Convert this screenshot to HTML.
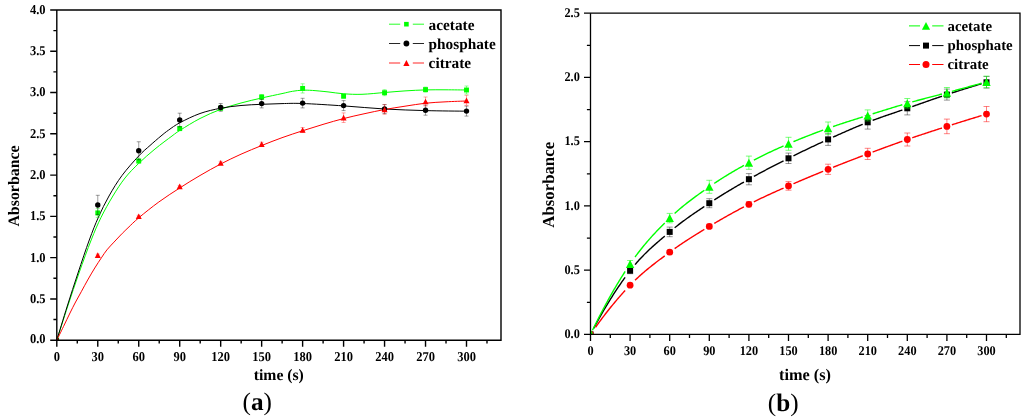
<!DOCTYPE html>
<html lang="en"><head><meta charset="utf-8"><title>Absorbance vs time</title>
<style>html,body{margin:0;padding:0;background:#fff;}body{width:1024px;height:420px;overflow:hidden;}svg{display:block;font-family:'Liberation Serif', 'DejaVu Serif', serif;fill:#000;text-rendering:geometricPrecision;}</style></head><body>
<svg width="1024" height="420" viewBox="0 0 1024 420">
<rect x="0" y="0" width="1024" height="420" fill="#fff"/>
<g id="chart-a">
<clipPath id="clipA"><rect x="56.8" y="10" width="444.2" height="330.2"/></clipPath>
<g fill="none" stroke-width="1.0" clip-path="url(#clipA)">
<path d="M56.8,340.2 C58.63,334.5 64.1,317.2 67.8,306 C71.5,294.8 75.1,284 79,273 C82.9,262 87.53,249.25 91.2,240 C94.87,230.75 97.38,224.83 101,217.5 C104.62,210.17 108.9,202.58 112.9,196 C116.9,189.42 120.68,183.45 125,178 C129.32,172.55 133.8,168.13 138.8,163.3 C143.8,158.47 149.47,153.55 155,149 C160.53,144.45 167.75,139.17 172,136 C176.25,132.83 175.83,132.92 180.5,130 C185.17,127.08 193.29,121.95 200,118.5 C206.71,115.05 213.92,111.88 220.75,109.3 C227.58,106.72 234.19,104.88 241,103 C247.81,101.12 254.77,99.57 261.6,98 C268.43,96.43 276.85,94.72 282,93.6 C287.15,92.48 289.08,91.87 292.5,91.3 C295.92,90.73 299.17,90.34 302.5,90.2 C305.83,90.06 308.25,90.17 312.5,90.45 C316.75,90.73 322.78,91.34 328,91.9 C333.22,92.46 338.13,93.4 343.8,93.8 C349.47,94.2 355.18,94.52 362,94.3 C368.82,94.08 377.53,93.07 384.7,92.5 C391.87,91.93 398.17,91.33 405,90.9 C411.83,90.47 418.87,90.08 425.7,89.9 C432.53,89.72 439.2,89.78 446,89.8 C452.8,89.82 463.08,89.97 466.5,90" stroke="#00ff00"/>
<path d="M56.8,340.2 C58.55,334.5 63.77,317.2 67.3,306 C70.83,294.8 74.33,284 78,273 C81.67,262 85.88,249.33 89.3,240 C92.72,230.67 95.22,224.33 98.5,217 C101.78,209.67 105.08,202.92 109,196 C112.92,189.08 117.03,182.18 122,175.5 C126.97,168.82 134.13,160.9 138.8,155.9 C143.47,150.9 146.3,148.82 150,145.5 C153.7,142.18 157.88,138.58 161,136 C164.12,133.42 165.55,132.22 168.7,130 C171.85,127.78 174.68,125.45 179.9,122.7 C185.12,119.95 193.19,115.92 200,113.5 C206.81,111.08 213.92,109.53 220.75,108.2 C227.58,106.87 234.19,106.15 241,105.5 C247.81,104.85 254.77,104.62 261.6,104.3 C268.43,103.98 275.18,103.73 282,103.6 C288.82,103.47 292.2,103.12 302.5,103.5 C312.8,103.88 330.1,104.98 343.8,105.9 C357.5,106.82 371.05,108.22 384.7,109 C398.35,109.78 412.07,110.23 425.7,110.6 C439.33,110.97 459.7,111.1 466.5,111.2" stroke="#000000"/>
<path d="M56.8,340.2 C57.92,337.92 61.3,331.03 63.5,326.5 C65.7,321.97 67.98,317.08 70,313 C72.02,308.92 73.68,305.62 75.6,302 C77.52,298.38 79.48,294.97 81.5,291.3 C83.52,287.63 85.49,283.88 87.7,280 C89.91,276.12 92.47,271.7 94.75,268 C97.03,264.3 99.38,260.82 101.4,257.8 C103.43,254.78 104.8,252.52 106.9,249.9 C109,247.28 111.7,244.58 114,242.1 C116.3,239.62 118.37,237.38 120.7,235 C123.03,232.62 124.95,230.7 128,227.8 C131.05,224.9 133.87,221.9 139,217.6 C144.13,213.3 152.02,206.93 158.8,202 C165.58,197.07 172.83,192.42 179.7,188 C186.57,183.58 193.17,179.5 200,175.5 C206.83,171.5 213.87,167.55 220.7,164 C227.53,160.45 234.12,157.3 241,154.2 C247.88,151.1 255.17,148.15 262,145.4 C268.83,142.65 275.2,140.15 282,137.7 C288.8,135.25 295.97,132.92 302.8,130.7 C309.63,128.48 316.17,126.43 323,124.4 C329.83,122.37 336.97,120.27 343.8,118.5 C350.63,116.73 357.18,115.3 364,113.8 C370.82,112.3 377.87,110.77 384.7,109.5 C391.53,108.23 398.17,107.25 405,106.2 C411.83,105.15 418.87,103.93 425.7,103.2 C432.53,102.47 439.2,102.17 446,101.8 C452.8,101.43 463.08,101.13 466.5,101" stroke="#ff0000"/>
</g>
<g clip-path="url(#clipA)">
<rect x="54.5" y="337.9" width="4.6" height="4.6" fill="#00ff00"/>
<circle cx="56.8" cy="340.2" r="2.4" fill="#000000"/>
<polygon points="56.8,336.4 53.8,342.1 59.8,342.1" fill="#ff0000"/>
<path d="M97.77,208.4 V217.4 M95.77,208.4 H99.77 M95.77,217.4 H99.77" stroke="#00ff00" stroke-width="0.7" stroke-opacity="0.6" fill="none"/>
<path d="M138.74,159 V163 M136.74,159 H140.74 M136.74,163 H140.74" stroke="#00ff00" stroke-width="0.7" stroke-opacity="0.6" fill="none"/>
<path d="M179.71,126.6 V130.6 M177.71,126.6 H181.71 M177.71,130.6 H181.71" stroke="#00ff00" stroke-width="0.7" stroke-opacity="0.6" fill="none"/>
<path d="M220.68,106.2 V110.2 M218.68,106.2 H222.68 M218.68,110.2 H222.68" stroke="#00ff00" stroke-width="0.7" stroke-opacity="0.6" fill="none"/>
<path d="M261.65,94.5 V99.5 M259.65,94.5 H263.65 M259.65,99.5 H263.65" stroke="#00ff00" stroke-width="0.7" stroke-opacity="0.6" fill="none"/>
<path d="M302.62,83.8 V93 M300.62,83.8 H304.62 M300.62,93 H304.62" stroke="#00ff00" stroke-width="0.7" stroke-opacity="0.6" fill="none"/>
<path d="M343.59,94.2 V98.2 M341.59,94.2 H345.59 M341.59,98.2 H345.59" stroke="#00ff00" stroke-width="0.7" stroke-opacity="0.6" fill="none"/>
<path d="M384.56,89.7 V95.7 M382.56,89.7 H386.56 M382.56,95.7 H386.56" stroke="#00ff00" stroke-width="0.7" stroke-opacity="0.6" fill="none"/>
<path d="M425.53,87.1 V92.1 M423.53,87.1 H427.53 M423.53,92.1 H427.53" stroke="#00ff00" stroke-width="0.7" stroke-opacity="0.6" fill="none"/>
<path d="M466.5,86 V94 M464.5,86 H468.5 M464.5,94 H468.5" stroke="#00ff00" stroke-width="0.7" stroke-opacity="0.6" fill="none"/>
<rect x="95.32" y="210.45" width="4.9" height="4.9" fill="#00ff00"/>
<rect x="136.29" y="158.55" width="4.9" height="4.9" fill="#00ff00"/>
<rect x="177.26" y="126.15" width="4.9" height="4.9" fill="#00ff00"/>
<rect x="218.23" y="105.75" width="4.9" height="4.9" fill="#00ff00"/>
<rect x="259.2" y="94.55" width="4.9" height="4.9" fill="#00ff00"/>
<rect x="300.17" y="85.95" width="4.9" height="4.9" fill="#00ff00"/>
<rect x="341.14" y="93.75" width="4.9" height="4.9" fill="#00ff00"/>
<rect x="382.11" y="90.25" width="4.9" height="4.9" fill="#00ff00"/>
<rect x="423.08" y="87.15" width="4.9" height="4.9" fill="#00ff00"/>
<rect x="464.05" y="87.55" width="4.9" height="4.9" fill="#00ff00"/>
<path d="M97.77,195.3 V214.7 M95.77,195.3 H99.77 M95.77,214.7 H99.77" stroke="#000" stroke-width="0.7" stroke-opacity="0.55" fill="none"/>
<path d="M138.74,141.75 V159.75 M136.74,141.75 H140.74 M136.74,159.75 H140.74" stroke="#000" stroke-width="0.7" stroke-opacity="0.55" fill="none"/>
<path d="M179.71,113.2 V126.8 M177.71,113.2 H181.71 M177.71,126.8 H181.71" stroke="#000" stroke-width="0.7" stroke-opacity="0.55" fill="none"/>
<path d="M220.68,103.5 V111.3 M218.68,103.5 H222.68 M218.68,111.3 H222.68" stroke="#000" stroke-width="0.7" stroke-opacity="0.55" fill="none"/>
<path d="M261.65,99.3 V107.9 M259.65,99.3 H263.65 M259.65,107.9 H263.65" stroke="#000" stroke-width="0.7" stroke-opacity="0.55" fill="none"/>
<path d="M302.62,98.3 V107.9 M300.62,98.3 H304.62 M300.62,107.9 H304.62" stroke="#000" stroke-width="0.7" stroke-opacity="0.55" fill="none"/>
<path d="M343.59,100.6 V110.6 M341.59,100.6 H345.59 M341.59,110.6 H345.59" stroke="#000" stroke-width="0.7" stroke-opacity="0.55" fill="none"/>
<path d="M384.56,104.5 V113.5 M382.56,104.5 H386.56 M382.56,113.5 H386.56" stroke="#000" stroke-width="0.7" stroke-opacity="0.55" fill="none"/>
<path d="M425.53,105.2 V115.2 M423.53,105.2 H427.53 M423.53,115.2 H427.53" stroke="#000" stroke-width="0.7" stroke-opacity="0.55" fill="none"/>
<path d="M466.5,106.1 V116.1 M464.5,106.1 H468.5 M464.5,116.1 H468.5" stroke="#000" stroke-width="0.7" stroke-opacity="0.55" fill="none"/>
<circle cx="97.77" cy="205" r="2.7" fill="#000000"/>
<circle cx="138.74" cy="150.75" r="2.7" fill="#000000"/>
<circle cx="179.71" cy="120" r="2.7" fill="#000000"/>
<circle cx="220.68" cy="107.4" r="2.7" fill="#000000"/>
<circle cx="261.65" cy="103.6" r="2.7" fill="#000000"/>
<circle cx="302.62" cy="103.1" r="2.7" fill="#000000"/>
<circle cx="343.59" cy="105.6" r="2.7" fill="#000000"/>
<circle cx="384.56" cy="109" r="2.7" fill="#000000"/>
<circle cx="425.53" cy="110.2" r="2.7" fill="#000000"/>
<circle cx="466.5" cy="111.1" r="2.7" fill="#000000"/>
<path d="M97.77,254.1 V256.1 M95.77,254.1 H99.77 M95.77,256.1 H99.77" stroke="#ff0000" stroke-width="0.7" stroke-opacity="0.5" fill="none"/>
<path d="M138.74,215.25 V217.25 M136.74,215.25 H140.74 M136.74,217.25 H140.74" stroke="#ff0000" stroke-width="0.7" stroke-opacity="0.5" fill="none"/>
<path d="M179.71,185.4 V187.4 M177.71,185.4 H181.71 M177.71,187.4 H181.71" stroke="#ff0000" stroke-width="0.7" stroke-opacity="0.5" fill="none"/>
<path d="M220.68,161.3 V164.3 M218.68,161.3 H222.68 M218.68,164.3 H222.68" stroke="#ff0000" stroke-width="0.7" stroke-opacity="0.5" fill="none"/>
<path d="M261.65,142.2 V146.2 M259.65,142.2 H263.65 M259.65,146.2 H263.65" stroke="#ff0000" stroke-width="0.7" stroke-opacity="0.5" fill="none"/>
<path d="M302.62,127.5 V132.5 M300.62,127.5 H304.62 M300.62,132.5 H304.62" stroke="#ff0000" stroke-width="0.7" stroke-opacity="0.5" fill="none"/>
<path d="M343.59,112.9 V122.5 M341.59,112.9 H345.59 M341.59,122.5 H345.59" stroke="#ff0000" stroke-width="0.7" stroke-opacity="0.5" fill="none"/>
<path d="M384.56,104.7 V114.3 M382.56,104.7 H386.56 M382.56,114.3 H386.56" stroke="#ff0000" stroke-width="0.7" stroke-opacity="0.5" fill="none"/>
<path d="M425.53,97 V106 M423.53,97 H427.53 M423.53,106 H427.53" stroke="#ff0000" stroke-width="0.7" stroke-opacity="0.5" fill="none"/>
<path d="M466.5,95.3 V105.3 M464.5,95.3 H468.5 M464.5,105.3 H468.5" stroke="#ff0000" stroke-width="0.7" stroke-opacity="0.5" fill="none"/>
<polygon points="97.77,252.25 94.77,257.95 100.77,257.95" fill="#ff0000"/>
<polygon points="138.74,213.4 135.74,219.1 141.74,219.1" fill="#ff0000"/>
<polygon points="179.71,183.55 176.71,189.25 182.71,189.25" fill="#ff0000"/>
<polygon points="220.68,159.95 217.68,165.65 223.68,165.65" fill="#ff0000"/>
<polygon points="261.65,141.35 258.65,147.05 264.65,147.05" fill="#ff0000"/>
<polygon points="302.62,127.15 299.62,132.85 305.62,132.85" fill="#ff0000"/>
<polygon points="343.59,114.85 340.59,120.55 346.59,120.55" fill="#ff0000"/>
<polygon points="384.56,106.65 381.56,112.35 387.56,112.35" fill="#ff0000"/>
<polygon points="425.53,98.65 422.53,104.35 428.53,104.35" fill="#ff0000"/>
<polygon points="466.5,97.45 463.5,103.15 469.5,103.15" fill="#ff0000"/>
</g>
<g stroke="#000" stroke-width="1.4" fill="none" stroke-linecap="butt">
<path d="M50.2,10 H501 V340.2 H50.2"/>
<path d="M56.8,10 V346.8"/>
<path d="M53.4,319.56 H56.8 M50.2,298.93 H56.8 M53.4,278.29 H56.8 M50.2,257.65 H56.8 M53.4,237.01 H56.8 M50.2,216.38 H56.8 M53.4,195.74 H56.8 M50.2,175.1 H56.8 M53.4,154.46 H56.8 M50.2,133.82 H56.8 M53.4,113.19 H56.8 M50.2,92.55 H56.8 M53.4,71.91 H56.8 M50.2,51.27 H56.8 M53.4,30.64 H56.8 M77.28,340.2 V343.6 M97.77,340.2 V346.8 M118.25,340.2 V343.6 M138.74,340.2 V346.8 M159.22,340.2 V343.6 M179.71,340.2 V346.8 M200.19,340.2 V343.6 M220.68,340.2 V346.8 M241.16,340.2 V343.6 M261.65,340.2 V346.8 M282.13,340.2 V343.6 M302.62,340.2 V346.8 M323.11,340.2 V343.6 M343.59,340.2 V346.8 M364.07,340.2 V343.6 M384.56,340.2 V346.8 M405.05,340.2 V343.6 M425.53,340.2 V346.8 M446.01,340.2 V343.6 M466.5,340.2 V346.8 M486.99,340.2 V343.6"/>
</g>
<g font-size="12.5" font-weight="bold" text-rendering="geometricPrecision">
<text transform="translate(45.5,343.4) scale(1,1.08)" text-anchor="end">0.0</text>
<text transform="translate(45.5,302.82) scale(1,1.08)" text-anchor="end">0.5</text>
<text transform="translate(45.5,261.55) scale(1,1.08)" text-anchor="end">1.0</text>
<text transform="translate(45.5,220.28) scale(1,1.08)" text-anchor="end">1.5</text>
<text transform="translate(45.5,179) scale(1,1.08)" text-anchor="end">2.0</text>
<text transform="translate(45.5,137.72) scale(1,1.08)" text-anchor="end">2.5</text>
<text transform="translate(45.5,96.45) scale(1,1.08)" text-anchor="end">3.0</text>
<text transform="translate(45.5,55.17) scale(1,1.08)" text-anchor="end">3.5</text>
<text transform="translate(45.5,13.9) scale(1,1.08)" text-anchor="end">4.0</text>
<text transform="translate(56.8,360.8) scale(1,1.08)" text-anchor="middle">0</text>
<text transform="translate(97.77,360.8) scale(1,1.08)" text-anchor="middle">30</text>
<text transform="translate(138.74,360.8) scale(1,1.08)" text-anchor="middle">60</text>
<text transform="translate(179.71,360.8) scale(1,1.08)" text-anchor="middle">90</text>
<text transform="translate(220.68,360.8) scale(1,1.08)" text-anchor="middle">120</text>
<text transform="translate(261.65,360.8) scale(1,1.08)" text-anchor="middle">150</text>
<text transform="translate(302.62,360.8) scale(1,1.08)" text-anchor="middle">180</text>
<text transform="translate(343.59,360.8) scale(1,1.08)" text-anchor="middle">210</text>
<text transform="translate(384.56,360.8) scale(1,1.08)" text-anchor="middle">240</text>
<text transform="translate(425.53,360.8) scale(1,1.08)" text-anchor="middle">270</text>
<text transform="translate(466.5,360.8) scale(1,1.08)" text-anchor="middle">300</text>
</g>
<path d="M389,24.2 H400.2 M412.8,24.2 H424" stroke="#00ff00" stroke-width="0.85" fill="none"/>
<rect x="404.1" y="21.9" width="4.6" height="4.6" fill="#00ff00"/>
<text x="428.6" y="29.5" font-size="15.3" font-weight="bold" text-anchor="start">acetate</text>
<path d="M389,43.5 H400.2 M412.8,43.5 H424" stroke="#000000" stroke-width="0.85" fill="none"/>
<circle cx="406.4" cy="43.5" r="2.9" fill="#000000"/>
<text x="428.6" y="48.8" font-size="15.3" font-weight="bold" text-anchor="start">phosphate</text>
<path d="M389,63 H400.2 M412.8,63 H424" stroke="#ff0000" stroke-width="0.85" fill="none"/>
<polygon points="406.4,60.05 403.3,65.94 409.5,65.94" fill="#ff0000"/>
<text x="428.6" y="68.3" font-size="15.3" font-weight="bold" text-anchor="start">citrate</text>
<text x="278.8" y="379.7" font-size="15.7" font-weight="bold" text-anchor="middle">time (s)</text>
<text transform="translate(18.9,186) rotate(-90)" font-size="15.9" font-weight="bold" text-anchor="middle">Absorbance</text>
<text x="257.3" y="410.0" font-size="25.2" text-anchor="middle">(<tspan font-weight="bold">a</tspan>)</text>
</g>
<g id="chart-b">
<clipPath id="clipB"><rect x="590.5" y="13.2" width="429.5" height="321.2"/></clipPath>
<g fill="none" stroke-width="1.4" clip-path="url(#clipB)">
<path d="M593.47,328.76 L594.46,326.91 L595.45,325.08 L596.44,323.26 L597.43,321.46 L598.42,319.67 L599.41,317.9 L600.4,316.14 L601.39,314.4 L602.38,312.68 L603.37,310.97 L604.36,309.27 L605.35,307.59 L606.34,305.93 L607.33,304.29 L608.32,302.65 L609.31,301.04 L610.3,299.44 L611.29,297.85 L612.28,296.28 L613.27,294.73 L614.26,293.19 L615.25,291.67 L616.24,290.16 L617.23,288.67 L618.22,287.2 L619.21,285.74 L620.2,284.29 L621.19,282.86 L622.18,281.45 L623.17,280.05 L624.16,278.67 L625.15,277.3 M635.05,264.59 L636.04,263.43 L637.03,262.3 L638.02,261.18 L639.01,260.09 L640,259.01 L640.99,257.95 L641.98,256.91 L642.97,255.89 L643.96,254.88 L644.95,253.88 L645.94,252.9 L646.93,251.94 L647.92,250.98 L648.91,250.04 L649.9,249.11 L650.89,248.19 L651.88,247.29 L652.87,246.39 L653.86,245.5 L654.85,244.62 L655.84,243.74 L656.83,242.87 L657.82,242.01 L658.81,241.16 L659.8,240.31 L660.79,239.46 L661.78,238.62 L662.77,237.77 L663.76,236.93 L664.75,236.1 M674.65,227.8 L675.64,227 L676.63,226.22 L677.62,225.44 L678.61,224.67 L679.6,223.9 L680.59,223.15 L681.58,222.4 L682.57,221.66 L683.56,220.92 L684.55,220.19 L685.54,219.47 L686.53,218.75 L687.52,218.04 L688.51,217.33 L689.5,216.62 L690.49,215.93 L691.48,215.23 L692.47,214.54 L693.46,213.86 L694.45,213.17 L695.44,212.5 L696.43,211.82 L697.42,211.15 L698.41,210.48 L699.4,209.81 L700.39,209.14 L701.38,208.48 L702.37,207.82 L703.36,207.15 L704.35,206.49 M714.25,199.95 L715.24,199.32 L716.23,198.68 L717.22,198.05 L718.21,197.42 L719.2,196.8 L720.19,196.18 L721.18,195.56 L722.17,194.94 L723.16,194.33 L724.15,193.72 L725.14,193.11 L726.13,192.51 L727.12,191.91 L728.11,191.31 L729.1,190.71 L730.09,190.12 L731.08,189.53 L732.07,188.94 L733.06,188.35 L734.05,187.77 L735.04,187.18 L736.03,186.6 L737.02,186.02 L738.01,185.45 L739,184.87 L739.99,184.3 L740.98,183.73 L741.97,183.16 L742.96,182.59 L743.95,182.02 M753.85,176.43 L754.84,175.88 L755.83,175.33 L756.82,174.79 L757.81,174.25 L758.8,173.71 L759.79,173.17 L760.78,172.64 L761.77,172.11 L762.76,171.58 L763.75,171.05 L764.74,170.52 L765.73,170 L766.72,169.47 L767.71,168.95 L768.7,168.43 L769.69,167.91 L770.68,167.4 L771.67,166.88 L772.66,166.37 L773.65,165.85 L774.64,165.34 L775.63,164.83 L776.62,164.33 L777.61,163.82 L778.6,163.31 L779.59,162.81 L780.58,162.3 L781.57,161.8 L782.56,161.3 L783.55,160.8 M793.45,155.83 L794.44,155.34 L795.43,154.85 L796.42,154.36 L797.41,153.88 L798.4,153.39 L799.39,152.91 L800.38,152.43 L801.37,151.95 L802.36,151.47 L803.35,150.99 L804.34,150.51 L805.33,150.03 L806.32,149.56 L807.31,149.08 L808.3,148.61 L809.29,148.14 L810.28,147.67 L811.27,147.2 L812.26,146.73 L813.25,146.27 L814.24,145.8 L815.23,145.34 L816.22,144.87 L817.21,144.41 L818.2,143.95 L819.19,143.49 L820.18,143.03 L821.17,142.58 L822.16,142.12 L823.15,141.66 M833.05,137.16 L834.04,136.71 L835.03,136.26 L836.02,135.82 L837.01,135.37 L838,134.93 L838.99,134.48 L839.98,134.04 L840.97,133.6 L841.96,133.16 L842.95,132.72 L843.94,132.28 L844.93,131.85 L845.92,131.41 L846.91,130.98 L847.9,130.54 L848.89,130.11 L849.88,129.68 L850.87,129.26 L851.86,128.83 L852.85,128.41 L853.84,127.98 L854.83,127.56 L855.82,127.15 L856.81,126.73 L857.8,126.31 L858.79,125.9 L859.78,125.49 L860.77,125.09 L861.76,124.68 L862.75,124.28 M872.65,120.4 L873.64,120.03 L874.63,119.66 L875.62,119.3 L876.61,118.93 L877.6,118.58 L878.59,118.22 L879.58,117.86 L880.57,117.51 L881.56,117.16 L882.55,116.81 L883.54,116.46 L884.53,116.12 L885.52,115.77 L886.51,115.43 L887.5,115.09 L888.49,114.75 L889.48,114.41 L890.47,114.07 L891.46,113.73 L892.45,113.39 L893.44,113.05 L894.43,112.72 L895.42,112.38 L896.41,112.04 L897.4,111.71 L898.39,111.37 L899.38,111.03 L900.37,110.69 L901.36,110.35 L902.35,110.01 M912.25,106.56 L913.24,106.22 L914.23,105.87 L915.22,105.52 L916.21,105.17 L917.2,104.82 L918.19,104.47 L919.18,104.12 L920.17,103.78 L921.16,103.43 L922.15,103.08 L923.14,102.73 L924.13,102.38 L925.12,102.04 L926.11,101.69 L927.1,101.34 L928.09,101 L929.08,100.65 L930.07,100.31 L931.06,99.96 L932.05,99.62 L933.04,99.28 L934.03,98.94 L935.02,98.6 L936.01,98.26 L937,97.92 L937.99,97.58 L938.98,97.25 L939.97,96.91 L940.96,96.58 L941.95,96.24 M951.85,92.99 L952.84,92.67 L953.83,92.35 L954.82,92.03 L955.81,91.71 L956.8,91.39 L957.79,91.08 L958.78,90.76 L959.77,90.45 L960.76,90.14 L961.75,89.82 L962.74,89.51 L963.73,89.2 L964.72,88.89 L965.71,88.58 L966.7,88.27 L967.69,87.97 L968.68,87.66 L969.67,87.36 L970.66,87.05 L971.65,86.75 L972.64,86.45 L973.63,86.14 L974.62,85.84 L975.61,85.54 L976.6,85.24 L977.59,84.95 L978.58,84.65 L979.57,84.35 L980.56,84.06 L981.55,83.76" stroke="#000000"/>
<path d="M595.45,327.36 L596.44,325.99 L597.43,324.62 L598.42,323.26 L599.41,321.92 L600.4,320.58 L601.39,319.26 L602.38,317.94 L603.37,316.63 L604.36,315.34 L605.35,314.05 L606.34,312.78 L607.33,311.51 L608.32,310.26 L609.31,309.01 L610.3,307.77 L611.29,306.55 L612.28,305.34 L613.27,304.13 L614.26,302.94 L615.25,301.75 L616.24,300.58 L617.23,299.41 L618.22,298.26 L619.21,297.12 L620.2,295.98 L621.19,294.86 L622.18,293.74 L623.17,292.64 L624.16,291.55 L625.15,290.46 M635.05,280.25 L636.04,279.3 L637.03,278.37 L638.02,277.45 L639.01,276.54 L640,275.64 L640.99,274.76 L641.98,273.88 L642.97,273.02 L643.96,272.17 L644.95,271.32 L645.94,270.49 L646.93,269.66 L647.92,268.85 L648.91,268.04 L649.9,267.24 L650.89,266.44 L651.88,265.66 L652.87,264.88 L653.86,264.1 L654.85,263.34 L655.84,262.57 L656.83,261.81 L657.82,261.06 L658.81,260.31 L659.8,259.56 L660.79,258.82 L661.78,258.08 L662.77,257.34 L663.76,256.6 L664.75,255.87 M674.65,248.61 L675.64,247.9 L676.63,247.21 L677.62,246.52 L678.61,245.84 L679.6,245.16 L680.59,244.48 L681.58,243.81 L682.57,243.15 L683.56,242.49 L684.55,241.84 L685.54,241.18 L686.53,240.54 L687.52,239.89 L688.51,239.25 L689.5,238.62 L690.49,237.99 L691.48,237.36 L692.47,236.73 L693.46,236.11 L694.45,235.49 L695.44,234.87 L696.43,234.25 L697.42,233.64 L698.41,233.03 L699.4,232.42 L700.39,231.81 L701.38,231.21 L702.37,230.6 L703.36,230 L704.35,229.4 M714.25,223.44 L715.24,222.85 L716.23,222.27 L717.22,221.68 L718.21,221.1 L719.2,220.53 L720.19,219.95 L721.18,219.38 L722.17,218.81 L723.16,218.24 L724.15,217.68 L725.14,217.12 L726.13,216.56 L727.12,216 L728.11,215.44 L729.1,214.89 L730.09,214.34 L731.08,213.79 L732.07,213.24 L733.06,212.7 L734.05,212.15 L735.04,211.61 L736.03,211.08 L737.02,210.54 L738.01,210.01 L739,209.48 L739.99,208.95 L740.98,208.42 L741.97,207.9 L742.96,207.38 L743.95,206.86 M753.85,201.81 L754.84,201.32 L755.83,200.84 L756.82,200.35 L757.81,199.87 L758.8,199.4 L759.79,198.92 L760.78,198.45 L761.77,197.98 L762.76,197.51 L763.75,197.05 L764.74,196.59 L765.73,196.13 L766.72,195.67 L767.71,195.21 L768.7,194.76 L769.69,194.3 L770.68,193.85 L771.67,193.4 L772.66,192.95 L773.65,192.51 L774.64,192.06 L775.63,191.61 L776.62,191.17 L777.61,190.73 L778.6,190.29 L779.59,189.85 L780.58,189.41 L781.57,188.97 L782.56,188.53 L783.55,188.09 M793.45,183.73 L794.44,183.3 L795.43,182.87 L796.42,182.45 L797.41,182.02 L798.4,181.6 L799.39,181.17 L800.38,180.75 L801.37,180.33 L802.36,179.91 L803.35,179.49 L804.34,179.07 L805.33,178.66 L806.32,178.24 L807.31,177.83 L808.3,177.41 L809.29,177 L810.28,176.59 L811.27,176.18 L812.26,175.77 L813.25,175.36 L814.24,174.95 L815.23,174.54 L816.22,174.14 L817.21,173.73 L818.2,173.32 L819.19,172.92 L820.18,172.51 L821.17,172.11 L822.16,171.71 L823.15,171.31 M833.05,167.31 L834.04,166.92 L835.03,166.52 L836.02,166.13 L837.01,165.73 L838,165.34 L838.99,164.95 L839.98,164.56 L840.97,164.17 L841.96,163.78 L842.95,163.39 L843.94,163.01 L844.93,162.62 L845.92,162.23 L846.91,161.85 L847.9,161.46 L848.89,161.08 L849.88,160.7 L850.87,160.31 L851.86,159.93 L852.85,159.55 L853.84,159.17 L854.83,158.79 L855.82,158.41 L856.81,158.03 L857.8,157.65 L858.79,157.27 L859.78,156.9 L860.77,156.52 L861.76,156.14 L862.75,155.77 M872.65,152.04 L873.64,151.67 L874.63,151.3 L875.62,150.94 L876.61,150.57 L877.6,150.2 L878.59,149.83 L879.58,149.47 L880.57,149.1 L881.56,148.73 L882.55,148.37 L883.54,148.01 L884.53,147.64 L885.52,147.28 L886.51,146.92 L887.5,146.56 L888.49,146.2 L889.48,145.84 L890.47,145.48 L891.46,145.12 L892.45,144.76 L893.44,144.4 L894.43,144.05 L895.42,143.69 L896.41,143.34 L897.4,142.99 L898.39,142.63 L899.38,142.28 L900.37,141.93 L901.36,141.58 L902.35,141.23 M912.25,137.79 L913.24,137.46 L914.23,137.12 L915.22,136.78 L916.21,136.45 L917.2,136.11 L918.19,135.78 L919.18,135.45 L920.17,135.12 L921.16,134.79 L922.15,134.46 L923.14,134.13 L924.13,133.8 L925.12,133.47 L926.11,133.15 L927.1,132.82 L928.09,132.49 L929.08,132.17 L930.07,131.84 L931.06,131.52 L932.05,131.2 L933.04,130.87 L934.03,130.55 L935.02,130.23 L936.01,129.91 L937,129.59 L937.99,129.27 L938.98,128.95 L939.97,128.63 L940.96,128.31 L941.95,127.99 M951.85,124.82 L952.84,124.5 L953.83,124.19 L954.82,123.88 L955.81,123.56 L956.8,123.25 L957.79,122.94 L958.78,122.63 L959.77,122.31 L960.76,122 L961.75,121.69 L962.74,121.38 L963.73,121.07 L964.72,120.77 L965.71,120.46 L966.7,120.15 L967.69,119.84 L968.68,119.54 L969.67,119.23 L970.66,118.92 L971.65,118.62 L972.64,118.31 L973.63,118.01 L974.62,117.71 L975.61,117.4 L976.6,117.1 L977.59,116.8 L978.58,116.5 L979.57,116.19 L980.56,115.89 L981.55,115.59" stroke="#ff0000"/>
<path d="M592.48,330.3 L593.47,328.27 L594.46,326.26 L595.45,324.26 L596.44,322.28 L597.43,320.31 L598.42,318.36 L599.41,316.42 L600.4,314.5 L601.39,312.6 L602.38,310.71 L603.37,308.83 L604.36,306.97 L605.35,305.13 L606.34,303.3 L607.33,301.49 L608.32,299.69 L609.31,297.91 L610.3,296.14 L611.29,294.39 L612.28,292.65 L613.27,290.93 L614.26,289.22 L615.25,287.53 L616.24,285.85 L617.23,284.19 L618.22,282.55 L619.21,280.92 L620.2,279.3 L621.19,277.7 L622.18,276.12 L623.17,274.55 L624.16,273 L625.15,271.46 M635.05,256.99 L636.04,255.65 L637.03,254.32 L638.02,253.02 L639.01,251.73 L640,250.46 L640.99,249.21 L641.98,247.97 L642.97,246.75 L643.96,245.54 L644.95,244.35 L645.94,243.18 L646.93,242.01 L647.92,240.86 L648.91,239.73 L649.9,238.61 L650.89,237.5 L651.88,236.4 L652.87,235.31 L653.86,234.23 L654.85,233.17 L655.84,232.11 L656.83,231.06 L657.82,230.03 L658.81,229 L659.8,227.97 L660.79,226.96 L661.78,225.95 L662.77,224.95 L663.76,223.96 L664.75,222.97 M674.65,213.44 L675.64,212.55 L676.63,211.66 L677.62,210.79 L678.61,209.93 L679.6,209.08 L680.59,208.24 L681.58,207.41 L682.57,206.59 L683.56,205.78 L684.55,204.98 L685.54,204.18 L686.53,203.4 L687.52,202.62 L688.51,201.85 L689.5,201.09 L690.49,200.33 L691.48,199.58 L692.47,198.84 L693.46,198.1 L694.45,197.37 L695.44,196.64 L696.43,195.92 L697.42,195.2 L698.41,194.49 L699.4,193.78 L700.39,193.07 L701.38,192.37 L702.37,191.66 L703.36,190.97 L704.35,190.27 M714.25,183.41 L715.24,182.75 L716.23,182.09 L717.22,181.44 L718.21,180.79 L719.2,180.15 L720.19,179.51 L721.18,178.88 L722.17,178.25 L723.16,177.63 L724.15,177.01 L725.14,176.39 L726.13,175.78 L727.12,175.18 L728.11,174.57 L729.1,173.97 L730.09,173.38 L731.08,172.79 L732.07,172.2 L733.06,171.62 L734.05,171.04 L735.04,170.46 L736.03,169.89 L737.02,169.32 L738.01,168.75 L739,168.19 L739.99,167.63 L740.98,167.07 L741.97,166.52 L742.96,165.96 L743.95,165.41 M753.85,160.07 L754.84,159.55 L755.83,159.04 L756.82,158.53 L757.81,158.03 L758.8,157.53 L759.79,157.03 L760.78,156.54 L761.77,156.05 L762.76,155.57 L763.75,155.08 L764.74,154.6 L765.73,154.13 L766.72,153.65 L767.71,153.18 L768.7,152.71 L769.69,152.25 L770.68,151.78 L771.67,151.32 L772.66,150.87 L773.65,150.41 L774.64,149.96 L775.63,149.51 L776.62,149.06 L777.61,148.61 L778.6,148.16 L779.59,147.72 L780.58,147.28 L781.57,146.84 L782.56,146.4 L783.55,145.96 M793.45,141.68 L794.44,141.27 L795.43,140.85 L796.42,140.44 L797.41,140.03 L798.4,139.62 L799.39,139.22 L800.38,138.82 L801.37,138.42 L802.36,138.02 L803.35,137.62 L804.34,137.23 L805.33,136.84 L806.32,136.45 L807.31,136.06 L808.3,135.68 L809.29,135.29 L810.28,134.91 L811.27,134.53 L812.26,134.15 L813.25,133.77 L814.24,133.4 L815.23,133.02 L816.22,132.65 L817.21,132.28 L818.2,131.91 L819.19,131.55 L820.18,131.18 L821.17,130.81 L822.16,130.45 L823.15,130.09 M833.05,126.56 L834.04,126.22 L835.03,125.88 L836.02,125.54 L837.01,125.21 L838,124.87 L838.99,124.54 L839.98,124.21 L840.97,123.89 L841.96,123.56 L842.95,123.24 L843.94,122.91 L844.93,122.59 L845.92,122.27 L846.91,121.95 L847.9,121.64 L848.89,121.32 L849.88,121.01 L850.87,120.69 L851.86,120.38 L852.85,120.06 L853.84,119.75 L854.83,119.44 L855.82,119.13 L856.81,118.82 L857.8,118.51 L858.79,118.2 L859.78,117.89 L860.77,117.58 L861.76,117.27 L862.75,116.96 M872.65,113.84 L873.64,113.53 L874.63,113.22 L875.62,112.9 L876.61,112.59 L877.6,112.28 L878.59,111.97 L879.58,111.66 L880.57,111.35 L881.56,111.05 L882.55,110.74 L883.54,110.43 L884.53,110.12 L885.52,109.82 L886.51,109.51 L887.5,109.21 L888.49,108.9 L889.48,108.6 L890.47,108.3 L891.46,107.99 L892.45,107.69 L893.44,107.39 L894.43,107.09 L895.42,106.79 L896.41,106.5 L897.4,106.2 L898.39,105.91 L899.38,105.61 L900.37,105.32 L901.36,105.03 L902.35,104.74 M912.25,101.9 L913.24,101.63 L914.23,101.36 L915.22,101.09 L916.21,100.82 L917.2,100.55 L918.19,100.28 L919.18,100.02 L920.17,99.75 L921.16,99.49 L922.15,99.22 L923.14,98.96 L924.13,98.7 L925.12,98.44 L926.11,98.18 L927.1,97.92 L928.09,97.66 L929.08,97.4 L930.07,97.14 L931.06,96.88 L932.05,96.62 L933.04,96.37 L934.03,96.11 L935.02,95.85 L936.01,95.59 L937,95.33 L937.99,95.07 L938.98,94.81 L939.97,94.55 L940.96,94.29 L941.95,94.02 M951.85,91.36 L952.84,91.09 L953.83,90.82 L954.82,90.56 L955.81,90.29 L956.8,90.02 L957.79,89.75 L958.78,89.48 L959.77,89.21 L960.76,88.94 L961.75,88.67 L962.74,88.4 L963.73,88.13 L964.72,87.86 L965.71,87.59 L966.7,87.33 L967.69,87.05 L968.68,86.78 L969.67,86.51 L970.66,86.24 L971.65,85.97 L972.64,85.7 L973.63,85.43 L974.62,85.16 L975.61,84.89 L976.6,84.62 L977.59,84.35 L978.58,84.08 L979.57,83.8 L980.56,83.53 L981.55,83.26" stroke="#00ff00"/>
</g>
<g clip-path="url(#clipB)">
<path d="M630.1,267.7 V273.7 M627.1,267.7 H633.1 M627.1,273.7 H633.1" stroke="#000" stroke-width="0.7" stroke-opacity="0.6" fill="none"/>
<path d="M669.7,227.1 V236.7 M666.7,227.1 H672.7 M666.7,236.7 H672.7" stroke="#000" stroke-width="0.7" stroke-opacity="0.6" fill="none"/>
<path d="M709.3,198.7 V207.7 M706.3,198.7 H712.3 M706.3,207.7 H712.3" stroke="#000" stroke-width="0.7" stroke-opacity="0.6" fill="none"/>
<path d="M748.9,173.6 V184.8 M745.9,173.6 H751.9 M745.9,184.8 H751.9" stroke="#000" stroke-width="0.7" stroke-opacity="0.6" fill="none"/>
<path d="M788.5,153.1 V163.5 M785.5,153.1 H791.5 M785.5,163.5 H791.5" stroke="#000" stroke-width="0.7" stroke-opacity="0.6" fill="none"/>
<path d="M828.1,133.4 V145.4 M825.1,133.4 H831.1 M825.1,145.4 H831.1" stroke="#000" stroke-width="0.7" stroke-opacity="0.6" fill="none"/>
<path d="M867.7,115.5 V129.1 M864.7,115.5 H870.7 M864.7,129.1 H870.7" stroke="#000" stroke-width="0.7" stroke-opacity="0.6" fill="none"/>
<path d="M907.3,101.7 V114.9 M904.3,101.7 H910.3 M904.3,114.9 H910.3" stroke="#000" stroke-width="0.7" stroke-opacity="0.6" fill="none"/>
<path d="M946.9,89.1 V100.1 M943.9,89.1 H949.9 M943.9,100.1 H949.9" stroke="#000" stroke-width="0.7" stroke-opacity="0.6" fill="none"/>
<path d="M986.5,76.5 V88.1 M983.5,76.5 H989.5 M983.5,88.1 H989.5" stroke="#000" stroke-width="0.7" stroke-opacity="0.6" fill="none"/>
<rect x="587.5" y="331.4" width="6" height="6" fill="#000000"/>
<rect x="627.1" y="267.7" width="6" height="6" fill="#000000"/>
<rect x="666.7" y="228.9" width="6" height="6" fill="#000000"/>
<rect x="706.3" y="200.2" width="6" height="6" fill="#000000"/>
<rect x="745.9" y="176.2" width="6" height="6" fill="#000000"/>
<rect x="785.5" y="155.3" width="6" height="6" fill="#000000"/>
<rect x="825.1" y="136.4" width="6" height="6" fill="#000000"/>
<rect x="864.7" y="119.3" width="6" height="6" fill="#000000"/>
<rect x="904.3" y="105.3" width="6" height="6" fill="#000000"/>
<rect x="943.9" y="91.6" width="6" height="6" fill="#000000"/>
<rect x="983.5" y="79.3" width="6" height="6" fill="#000000"/>
<path d="M630.1,284.2 V286.2 M627.1,284.2 H633.1 M627.1,286.2 H633.1" stroke="#ff0000" stroke-width="0.7" stroke-opacity="0.7" fill="none"/>
<path d="M669.7,250.7 V253.7 M666.7,250.7 H672.7 M666.7,253.7 H672.7" stroke="#ff0000" stroke-width="0.7" stroke-opacity="0.7" fill="none"/>
<path d="M709.3,224.4 V228.4 M706.3,224.4 H712.3 M706.3,228.4 H712.3" stroke="#ff0000" stroke-width="0.7" stroke-opacity="0.7" fill="none"/>
<path d="M748.9,201.8 V206.8 M745.9,201.8 H751.9 M745.9,206.8 H751.9" stroke="#ff0000" stroke-width="0.7" stroke-opacity="0.7" fill="none"/>
<path d="M788.5,181.6 V190.2 M785.5,181.6 H791.5 M785.5,190.2 H791.5" stroke="#ff0000" stroke-width="0.7" stroke-opacity="0.7" fill="none"/>
<path d="M828.1,164.2 V174.4 M825.1,164.2 H831.1 M825.1,174.4 H831.1" stroke="#ff0000" stroke-width="0.7" stroke-opacity="0.7" fill="none"/>
<path d="M867.7,148.3 V159.5 M864.7,148.3 H870.7 M864.7,159.5 H870.7" stroke="#ff0000" stroke-width="0.7" stroke-opacity="0.7" fill="none"/>
<path d="M907.3,133 V146 M904.3,133 H910.3 M904.3,146 H910.3" stroke="#ff0000" stroke-width="0.7" stroke-opacity="0.7" fill="none"/>
<path d="M946.9,119.1 V133.7 M943.9,119.1 H949.9 M943.9,133.7 H949.9" stroke="#ff0000" stroke-width="0.7" stroke-opacity="0.7" fill="none"/>
<path d="M986.5,106.5 V121.7 M983.5,106.5 H989.5 M983.5,121.7 H989.5" stroke="#ff0000" stroke-width="0.7" stroke-opacity="0.7" fill="none"/>
<circle cx="590.5" cy="334.4" r="3.4" fill="#ff0000"/>
<circle cx="630.1" cy="285.2" r="3.4" fill="#ff0000"/>
<circle cx="669.7" cy="252.2" r="3.4" fill="#ff0000"/>
<circle cx="709.3" cy="226.4" r="3.4" fill="#ff0000"/>
<circle cx="748.9" cy="204.3" r="3.4" fill="#ff0000"/>
<circle cx="788.5" cy="185.9" r="3.4" fill="#ff0000"/>
<circle cx="828.1" cy="169.3" r="3.4" fill="#ff0000"/>
<circle cx="867.7" cy="153.9" r="3.4" fill="#ff0000"/>
<circle cx="907.3" cy="139.5" r="3.4" fill="#ff0000"/>
<circle cx="946.9" cy="126.4" r="3.4" fill="#ff0000"/>
<circle cx="986.5" cy="114.1" r="3.4" fill="#ff0000"/>
<path d="M630.1,260.5 V267.5 M627.1,260.5 H633.1 M627.1,267.5 H633.1" stroke="#00ff00" stroke-width="0.7" stroke-opacity="0.75" fill="none"/>
<path d="M669.7,213.4 V222.8 M666.7,213.4 H672.7 M666.7,222.8 H672.7" stroke="#00ff00" stroke-width="0.7" stroke-opacity="0.75" fill="none"/>
<path d="M709.3,180.3 V193.3 M706.3,180.3 H712.3 M706.3,193.3 H712.3" stroke="#00ff00" stroke-width="0.7" stroke-opacity="0.75" fill="none"/>
<path d="M748.9,156.1 V169.3 M745.9,156.1 H751.9 M745.9,169.3 H751.9" stroke="#00ff00" stroke-width="0.7" stroke-opacity="0.75" fill="none"/>
<path d="M788.5,137.3 V150.3 M785.5,137.3 H791.5 M785.5,150.3 H791.5" stroke="#00ff00" stroke-width="0.7" stroke-opacity="0.75" fill="none"/>
<path d="M828.1,122 V134.6 M825.1,122 H831.1 M825.1,134.6 H831.1" stroke="#00ff00" stroke-width="0.7" stroke-opacity="0.75" fill="none"/>
<path d="M867.7,109.9 V120.9 M864.7,109.9 H870.7 M864.7,120.9 H870.7" stroke="#00ff00" stroke-width="0.7" stroke-opacity="0.75" fill="none"/>
<path d="M907.3,98.5 V108.1 M904.3,98.5 H910.3 M904.3,108.1 H910.3" stroke="#00ff00" stroke-width="0.7" stroke-opacity="0.75" fill="none"/>
<path d="M946.9,87.5 V97.9 M943.9,87.5 H949.9 M943.9,97.9 H949.9" stroke="#00ff00" stroke-width="0.7" stroke-opacity="0.75" fill="none"/>
<path d="M986.5,76.1 V87.7 M983.5,76.1 H989.5 M983.5,87.7 H989.5" stroke="#00ff00" stroke-width="0.7" stroke-opacity="0.75" fill="none"/>
<polygon points="590.5,329.08 586.3,337.06 594.7,337.06" fill="#00ff00"/>
<polygon points="630.1,260.01 625.9,267.99 634.3,267.99" fill="#00ff00"/>
<polygon points="669.7,214.11 665.5,222.09 673.9,222.09" fill="#00ff00"/>
<polygon points="709.3,182.81 705.1,190.79 713.5,190.79" fill="#00ff00"/>
<polygon points="748.9,158.71 744.7,166.69 753.1,166.69" fill="#00ff00"/>
<polygon points="788.5,139.81 784.3,147.79 792.7,147.79" fill="#00ff00"/>
<polygon points="828.1,124.31 823.9,132.29 832.3,132.29" fill="#00ff00"/>
<polygon points="867.7,111.41 863.5,119.39 871.9,119.39" fill="#00ff00"/>
<polygon points="907.3,99.31 903.1,107.29 911.5,107.29" fill="#00ff00"/>
<polygon points="946.9,88.71 942.7,96.69 951.1,96.69" fill="#00ff00"/>
<polygon points="986.5,77.91 982.3,85.89 990.7,85.89" fill="#00ff00"/>
</g>
<g stroke="#000" stroke-width="1.3" fill="none" stroke-linecap="butt">
<path d="M584,13.2 H1020 V334.4 H584"/>
<path d="M590.5,13.2 V340.9"/>
<path d="M586.9,302.28 H590.5 M584,270.16 H590.5 M586.9,238.04 H590.5 M584,205.92 H590.5 M586.9,173.8 H590.5 M584,141.68 H590.5 M586.9,109.56 H590.5 M584,77.44 H590.5 M586.9,45.32 H590.5 M610.3,334.4 V338 M630.1,334.4 V340.9 M649.9,334.4 V338 M669.7,334.4 V340.9 M689.5,334.4 V338 M709.3,334.4 V340.9 M729.1,334.4 V338 M748.9,334.4 V340.9 M768.7,334.4 V338 M788.5,334.4 V340.9 M808.3,334.4 V338 M828.1,334.4 V340.9 M847.9,334.4 V338 M867.7,334.4 V340.9 M887.5,334.4 V338 M907.3,334.4 V340.9 M927.1,334.4 V338 M946.9,334.4 V340.9 M966.7,334.4 V338 M986.5,334.4 V340.9 M1006.3,334.4 V338"/>
</g>
<g font-size="12.3" font-weight="bold" text-rendering="geometricPrecision">
<text transform="translate(579.8,338.1) scale(1,1.08)" text-anchor="end">0.0</text>
<text transform="translate(579.8,273.86) scale(1,1.08)" text-anchor="end">0.5</text>
<text transform="translate(579.8,209.62) scale(1,1.08)" text-anchor="end">1.0</text>
<text transform="translate(579.8,145.38) scale(1,1.08)" text-anchor="end">1.5</text>
<text transform="translate(579.8,81.14) scale(1,1.08)" text-anchor="end">2.0</text>
<text transform="translate(579.8,16.9) scale(1,1.08)" text-anchor="end">2.5</text>
<text transform="translate(590.5,354.5) scale(1,1.08)" text-anchor="middle">0</text>
<text transform="translate(630.1,354.5) scale(1,1.08)" text-anchor="middle">30</text>
<text transform="translate(669.7,354.5) scale(1,1.08)" text-anchor="middle">60</text>
<text transform="translate(709.3,354.5) scale(1,1.08)" text-anchor="middle">90</text>
<text transform="translate(748.9,354.5) scale(1,1.08)" text-anchor="middle">120</text>
<text transform="translate(788.5,354.5) scale(1,1.08)" text-anchor="middle">150</text>
<text transform="translate(828.1,354.5) scale(1,1.08)" text-anchor="middle">180</text>
<text transform="translate(867.7,354.5) scale(1,1.08)" text-anchor="middle">210</text>
<text transform="translate(907.3,354.5) scale(1,1.08)" text-anchor="middle">240</text>
<text transform="translate(946.9,354.5) scale(1,1.08)" text-anchor="middle">270</text>
<text transform="translate(986.5,354.5) scale(1,1.08)" text-anchor="middle">300</text>
</g>
<path d="M909,25.9 H920 M932.2,25.9 H943.5" stroke="#00ff00" stroke-width="1.0" fill="none"/>
<polygon points="926,22 921.9,29.79 930.1,29.79" fill="#00ff00"/>
<text x="947.5" y="31.25" font-size="14.85" font-weight="bold" text-anchor="start">acetate</text>
<path d="M909,45.6 H920 M932.2,45.6 H943.5" stroke="#000000" stroke-width="1.0" fill="none"/>
<rect x="923" y="42.6" width="6" height="6" fill="#000000"/>
<text x="947.5" y="50.2" font-size="14.85" font-weight="bold" text-anchor="start">phosphate</text>
<path d="M909,64.5 H920 M932.2,64.5 H943.5" stroke="#ff0000" stroke-width="1.0" fill="none"/>
<circle cx="926" cy="64.5" r="3.5" fill="#ff0000"/>
<text x="947.5" y="69.25" font-size="14.85" font-weight="bold" text-anchor="start">citrate</text>
<text x="805" y="380.3" font-size="16.3" font-weight="bold" text-anchor="middle">time (s)</text>
<text transform="translate(553.9,184.8) rotate(-90)" font-size="16.8" font-weight="bold" text-anchor="middle">Absorbance</text>
<text x="783.2" y="410.5" font-size="25.2" text-anchor="middle">(<tspan font-weight="bold">b</tspan>)</text>
</g>
</svg></body></html>
